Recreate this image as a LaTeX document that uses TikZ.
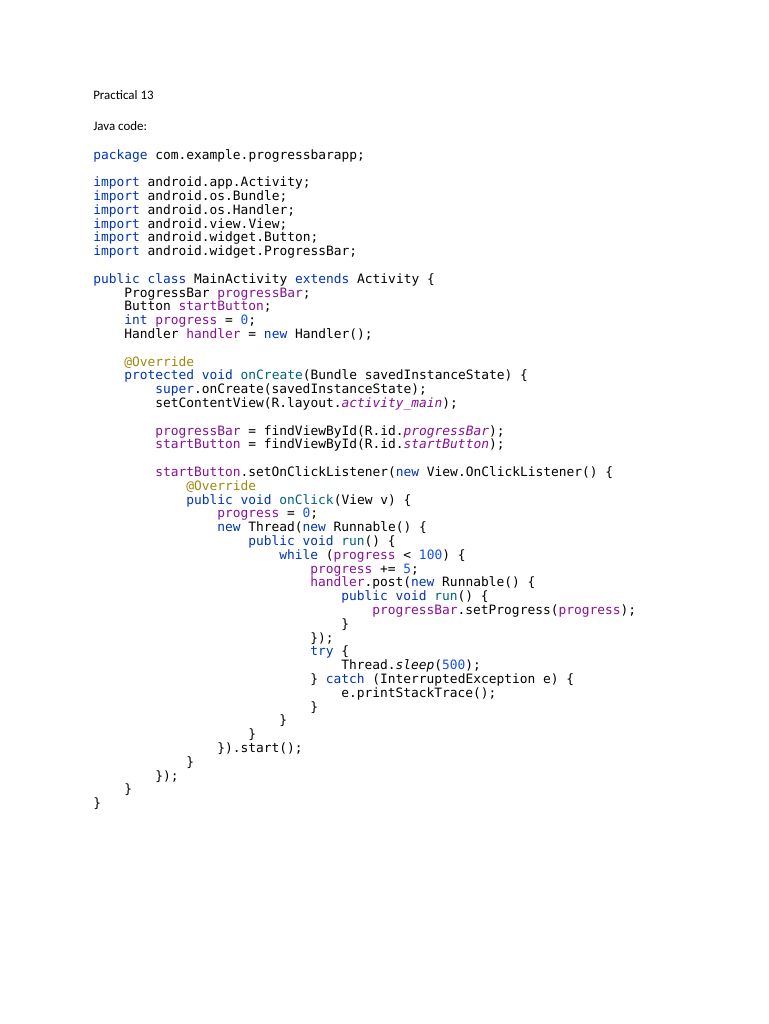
\documentclass[tikz,border=0pt]{standalone}
\usepackage{fontspec}
\setmainfont{Carlito}
\setmonofont{DejaVu Sans Mono}
\definecolor{kwc}{HTML}{0033B3}
\definecolor{fdc}{HTML}{871094}
\definecolor{nmc}{HTML}{1750EB}
\definecolor{anc}{HTML}{9E880D}
\definecolor{mtc}{HTML}{00627A}
\newcommand{\kw}[1]{\textcolor{kwc}{#1}}
\newcommand{\fd}[1]{\textcolor{fdc}{#1}}
\newcommand{\nm}[1]{\textcolor{nmc}{#1}}
\newcommand{\an}[1]{\textcolor{anc}{#1}}
\newcommand{\mt}[1]{\textcolor{mtc}{#1}}
\newcommand{\fdi}[1]{\textcolor{fdc}{\itshape #1}}
\tikzset{codeline/.style={anchor=base west,inner sep=0pt,font=\ttfamily\fontsize{9.67pt}{10pt}\selectfont},
  plain/.style={anchor=base west,inner sep=0pt,font=\fontsize{9.7pt}{11pt}\selectfont}}
\newcommand{\cl}[3]{\node[codeline] (L#1) at ({93+7.75*#2},{155+13.8*#1+4}) {#3};}
\begin{document}
\begin{tikzpicture}[x=0.75pt,y=-0.75pt]
\useasboundingbox (0,0) rectangle (768,1024);
\node[plain] (t1) at (93,99) {Practical 13};
\node[plain] (t2) at (93,130) {Java code:};
\cl{0}{0}{\kw{package} com.example.progressbarapp;}
\cl{2}{0}{\kw{import} android.app.Activity;}
\cl{3}{0}{\kw{import} android.os.Bundle;}
\cl{4}{0}{\kw{import} android.os.Handler;}
\cl{5}{0}{\kw{import} android.view.View;}
\cl{6}{0}{\kw{import} android.widget.Button;}
\cl{7}{0}{\kw{import} android.widget.ProgressBar;}
\cl{9}{0}{\kw{public class} MainActivity \kw{extends} Activity \{}
\cl{10}{4}{ProgressBar \fd{progressBar};}
\cl{11}{4}{Button \fd{startButton};}
\cl{12}{4}{\kw{int} \fd{progress} = \nm{0};}
\cl{13}{4}{Handler \fd{handler} = \kw{new} Handler();}
\cl{15}{4}{\an{@Override}}
\cl{16}{4}{\kw{protected void} \mt{onCreate}(Bundle savedInstanceState) \{}
\cl{17}{8}{\kw{super}.onCreate(savedInstanceState);}
\cl{18}{8}{setContentView(R.layout.\fdi{activity\_main});}
\cl{20}{8}{\fd{progressBar} = findViewById(R.id.\fdi{progressBar});}
\cl{21}{8}{\fd{startButton} = findViewById(R.id.\fdi{startButton});}
\cl{23}{8}{\fd{startButton}.setOnClickListener(\kw{new} View.OnClickListener() \{}
\cl{24}{12}{\an{@Override}}
\cl{25}{12}{\kw{public void} \mt{onClick}(View v) \{}
\cl{26}{16}{\fd{progress} = \nm{0};}
\cl{27}{16}{\kw{new} Thread(\kw{new} Runnable() \{}
\cl{28}{20}{\kw{public void} \mt{run}() \{}
\cl{29}{24}{\kw{while} (\fd{progress} < \nm{100}) \{}
\cl{30}{28}{\fd{progress} += \nm{5};}
\cl{31}{28}{\fd{handler}.post(\kw{new} Runnable() \{}
\cl{32}{32}{\kw{public void} \mt{run}() \{}
\cl{33}{36}{\fd{progressBar}.setProgress(\fd{progress});}
\cl{34}{32}{\}}
\cl{35}{28}{\});}
\cl{36}{28}{\kw{try} \{}
\cl{37}{32}{Thread.\textit{sleep}(\nm{500});}
\cl{38}{28}{\} \kw{catch} (InterruptedException e) \{}
\cl{39}{32}{e.printStackTrace();}
\cl{40}{28}{\}}
\cl{41}{24}{\}}
\cl{42}{20}{\}}
\cl{43}{16}{\}).start();}
\cl{44}{12}{\}}
\cl{45}{8}{\});}
\cl{46}{4}{\}}
\cl{47}{0}{\}}
\end{tikzpicture}
\end{document}
